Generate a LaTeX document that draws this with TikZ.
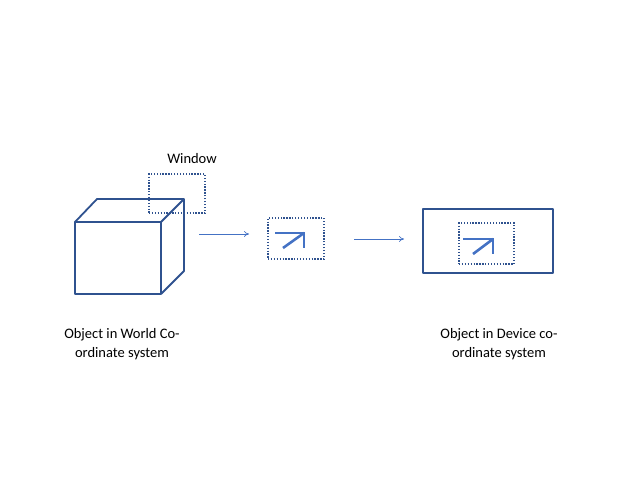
\documentclass[tikz,border=0pt]{standalone}
\usepackage{fontspec}
\setmainfont{Carlito}
\usetikzlibrary{arrows.meta}
\begin{document}
\begin{tikzpicture}[x=1pt,y=-1pt,
  dk/.style={draw=dkb,line width=1.8pt,line join=round},
  dot/.style={draw=dkb,line width=1.8pt,dash pattern=on 1.3pt off 1.6pt},
  ic/.style={draw=icb,line width=2.6pt},
  flow/.style={draw=icb,line width=0.7pt,-{To[length=5pt,width=6pt]}},
  lbl/.style={font=\fontsize{14.5pt}{19pt}\selectfont,align=center,text=black}]
\definecolor{dkb}{RGB}{47,82,143}
\definecolor{icb}{RGB}{68,114,196}
\useasboundingbox (0,0) rectangle (638,478);
% cube
\draw[dk] (75,222) rectangle (161,294);
\draw[dk] (75,222) -- (97,199) -- (184,199) -- (184,271) -- (161,294);
\draw[dk] (161,222) -- (184,199);
\node[dot,minimum width=56pt,minimum height=39pt,inner sep=0] (win) at (177,193.5) {};
\node[lbl] (wl) at (192,159) {Window};
\coordinate (a1s) at (199,234); \coordinate (a1e) at (249,234);
\draw[flow] (a1s) -- (a1e);
\node[dot,minimum width=56pt,minimum height=41pt,inner sep=0] (sb) at (296,238.5) {};
\draw[ic] (275,233) -- (304,233) -- (304,248);
\draw[ic] (283,248) -- (304,233);
\coordinate (a2s) at (354,239); \coordinate (a2e) at (404,239);
\draw[flow] (a2s) -- (a2e);
\node[dk,minimum width=130pt,minimum height=64pt,inner sep=0] (dev) at (488,241) {};
\node[dot,minimum width=55pt,minimum height=41pt,inner sep=0] (db) at (486.5,243.5) {};
\draw[ic] (463,239) -- (493,239) -- (493,254);
\draw[ic] (473,254) -- (493,239);
\node[lbl] (t1) at (122,344) {Object in World Co-\\ordinate system};
\node[lbl] (t2) at (499,344) {Object in Device co-\\ordinate system};
\end{tikzpicture}
\end{document}
